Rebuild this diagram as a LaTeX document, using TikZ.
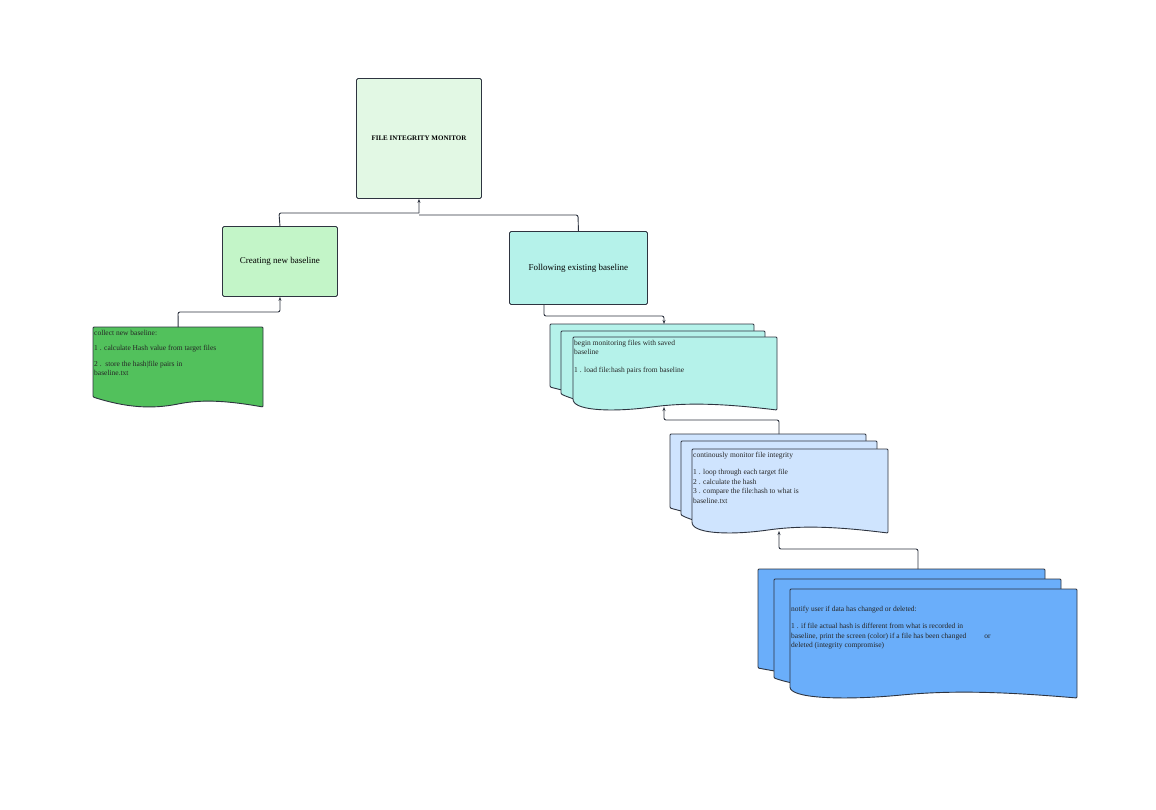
\documentclass[tikz,border=0pt]{standalone}
\usepackage{fontspec}
\setmainfont{Liberation Serif}
\definecolor{cTop}{HTML}{E2F8E4}
\definecolor{cCreate}{HTML}{C3F5C8}
\definecolor{cFollow}{HTML}{B5F2EA}
\definecolor{cGreen}{HTML}{52C15C}
\definecolor{cLight}{HTML}{CFE4FE}
\definecolor{cBlue}{HTML}{6AAEFA}
\definecolor{cLine}{HTML}{2E3440}
\newcommand{\docpath}[4]{%
  (#1,#2) -- (#3,#2) -- (#3,#4)
  .. controls ({#3-0.2*(#3-#1)},{#4-6}) and ({#3-0.35*(#3-#1)},{#4-8}) .. ({#3-0.5*(#3-#1)},{#4-3})
  .. controls ({#3-0.65*(#3-#1)},{#4+2}) and ({#3-0.8*(#3-#1)},{#4+1}) .. (#1,{#4-10}) -- cycle}
\tikzset{
  box/.style={draw=cLine, line width=0.9pt, rounded corners=1.5pt},
  docsty/.style={draw=cLine, line width=0.9pt, rounded corners=1pt},
  conn/.style={draw=cLine, line width=0.9pt, rounded corners=2pt},
  arr/.style={conn, -{Stealth[length=4pt,width=3pt]}},
  txt/.style={font=\fontsize{7.5}{9.5}\selectfont, align=left, anchor=north west, inner sep=0pt, text=black!85},
  ghost/.style={inner sep=0pt, minimum width=#1, minimum height=2pt, anchor=north west}
}
\usetikzlibrary{arrows.meta}
\begin{document}
\begin{tikzpicture}[x=1pt,y=-1pt]
\useasboundingbox[fill=white] (0,0) rectangle (1156,809);
% top boxes
\node[box, fill=cTop, minimum width=125pt, minimum height=120pt, anchor=north west, font=\bfseries\fontsize{7}{9}\selectfont] (fim) at (356,78) {FILE INTEGRITY MONITOR};
\node[box, fill=cCreate, minimum width=115pt, minimum height=70pt, anchor=north west, font=\fontsize{9}{11}\selectfont] (create) at (222,226) {Creating new baseline};
\node[box, fill=cFollow, minimum width=138pt, minimum height=73pt, anchor=north west, font=\fontsize{9}{11}\selectfont] (follow) at (509,231) {Following existing baseline};
% green doc
\fill[cGreen] \docpath{93}{327}{263}{407};
\draw[docsty] \docpath{93}{327}{263}{407};
\node[ghost=170pt] (gdoc) at (93,327) {};
\node[txt] (gtxt) at (94,330) {collect new baseline:\\[6pt]1 . calculate Hash value from target files\\[6pt]2 .\ \ store the hash|file pairs in\\baseline.txt};
% teal docs
\foreach \dx/\dy in {0/0,11/7,23/13}{
  \filldraw[docsty, fill=cFollow] \docpath{550+\dx}{324+\dy}{754+\dx}{397+\dy};
}
\node[ghost=204pt] (tback) at (550,324) {};
\node[ghost=204pt, anchor=south west] (tfront) at (573,408) {};
\node[txt] (ttxt) at (574,340) {begin monitoring files with saved\\baseline\\[8pt]1 . load file:hash pairs from baseline};
% light blue docs
\foreach \dx/\dy in {0/0,11/7,22/15}{
  \filldraw[docsty, fill=cLight] \docpath{670+\dx}{434+\dy}{866+\dx}{518+\dy};
}
\node[ghost=196pt] (lback) at (670,434) {};
\node[ghost=196pt, anchor=south west] (lfront) at (692,531) {};
\node[txt] (ltxt) at (693,452) {continously monitor file integrity\\[8pt]1 . loop through each target file\\2 . calculate the hash\\3 . compare the file:hash to what is\\baseline.txt};
% blue docs
\foreach \dx/\dy in {0/0,16/10,32/20}{
  \filldraw[docsty, fill=cBlue] \docpath{758+\dx}{569+\dy}{1045+\dx}{678+\dy};
}
\node[ghost=287pt] (bback) at (758,569) {};
\node[txt] (btxt) at (791,606) {notify user if data has changed or deleted:\\[8pt]1 . if file actual hash is different from what is recorded in\\baseline, print the screen (color) if a file has been changed\hspace{18pt}or\\deleted (integrity compromise)};
% connectors
\coordinate (j1) at (419,213);
\draw[conn] (create.north) -- (279,213) -- (j1);
\draw[conn] (follow.north) -- (578,215) -- (419,215);
\draw[arr] (j1) -- (fim.south);
\draw[arr] (gdoc.north) -- (178,312) -- (280,312) -- (create.south);
\draw[arr] (follow.south -| 544,0) -- (544,316) -- (664,316) -- (tback.north -| 664,0);
\draw[arr] (lback.north -| 779,0) -- (779,420) -- (664,420) -- (664,407);
\draw[arr] (bback.north -| 918,0) -- (918,549) -- (779,549) -- (779,531);
\end{tikzpicture}
\end{document}
